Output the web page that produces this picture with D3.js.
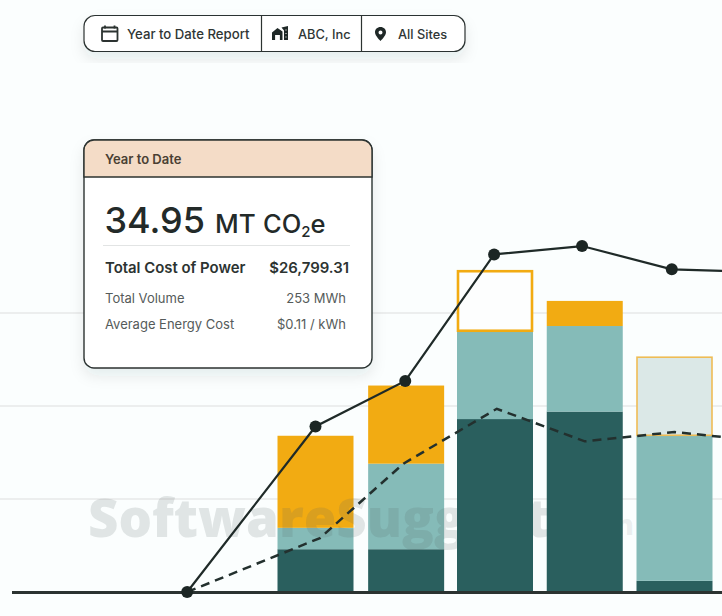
<!DOCTYPE html>
<html><head><meta charset="utf-8">
<script src="https://cdn.jsdelivr.net/npm/d3@7"></script>
<style>html,body{margin:0;padding:0;background:#fbfefe;overflow:hidden}svg{display:block}text{font-family:Inter,"Noto Sans",sans-serif}</style>
</head><body><div id="c"></div>
<script>
// ---- data ----
const categories = ["M1","M2","M3","M4","M5"];
const barPositions = [0,1.01,2,3,4];
const darkValues = [46,46,188,194,12];
const tealValues = [23,92,94,92,156];
const upperValues = [99,84,64,27,85];
const upperStyles = ["solid","solid","outline","solid","pale"];
const solidPositions = [-1.43,0,1,1.99,2.97,3.97,5];
const solidLine = [0,178,227,363,372,347,344];
const dashedPositions = [-1.43,0.05,0.98,2.02,3,4,5];
const dashedLine = [0,58,138,197,162,172,162];
const gridValues = [100,200,300];
const pillLabels = ["Year to Date Report","ABC, Inc","All Sites"];
const statRows = [["Total Volume","253 MWh"],["Average Energy Cost","$0.11 / kWh"]];

const W=722,H=616;
const svg=d3.select("#c").append("svg").attr("width",W).attr("height",H);
const defs=svg.append("defs");
const f=defs.append("filter").attr("id","sh").attr("x","-15%").attr("y","-20%").attr("width","130%").attr("height","150%");
f.append("feDropShadow").attr("dx",0).attr("dy",7).attr("stdDeviation",7).attr("flood-color","#1a2a2a").attr("flood-opacity",0.09);

const x=d3.scaleLinear().domain([0,4]).range([315.5,674.5]);
const y=d3.scaleLinear().domain([0,400]).range([592,220]);
const band=76;

// gridlines
svg.append("g").selectAll("line").data(gridValues).join("line")
  .attr("x1",0).attr("x2",W).attr("y1",d=>y(d)).attr("y2",d=>y(d))
  .attr("stroke","#eceeee").attr("stroke-width",2);

// stacked bars
const rows=categories.map((c,i)=>({c,i,dark:darkValues[i],teal:tealValues[i],upper:upperValues[i],style:upperStyles[i]}));
const stack=d3.stack().keys(["dark","teal","upper"])(rows);
const colours={dark:"#2a5f5e",teal:"#85bbb8",upper:"#f2ab12"};
function drawBars(sel,subset){
  stack.forEach(layer=>{
    sel.append("g").selectAll("rect").data(layer.filter(d=>subset(d.data.i))).join("rect")
      .each(function(d){
        const r=d3.select(this),k=layer.key,s=d.data.style;
        const outlined=k==="upper"&&s!=="solid";
        const inset=outlined?(s==="pale"?0.5:1):0;
        r.attr("x",x(barPositions[d.data.i])-band/2+inset).attr("width",band-inset*2)
         .attr("y",y(d[1])+inset).attr("height",y(d[0])-y(d[1])-inset*2+(s==="outline"?2:0));
        if(outlined){
          r.attr("fill",s==="pale"?"#dbe8e7":"#fdfefe").attr("stroke",s==="pale"?"#efbc55":"#f2ab12").attr("stroke-width",s==="pale"?1.6:2.6);
        } else r.attr("fill",colours[k]);
      });
  });
}
drawBars(svg.append("g"),i=>i<2);

// watermark
svg.append("text").attr("x",88).attr("y",537).attr("fill","#5a6464").attr("fill-opacity",0.16)
  .attr("font-size",53).attr("font-weight",800).style("font-family","'Open Sans',sans-serif").attr("textLength",462).attr("lengthAdjust","spacingAndGlyphs").text("SoftwareSuggest");
svg.append("text").attr("x",634).attr("y",535).attr("text-anchor","end").attr("fill","#5a6464").attr("fill-opacity",0.1)
  .attr("font-size",28).attr("font-weight",800).style("font-family","'Open Sans',sans-serif").text(".com");

drawBars(svg.append("g"),i=>i>=2);

// baseline
svg.append("line").attr("x1",12).attr("x2",W).attr("y1",y(0)+0.5).attr("y2",y(0)+0.5).attr("stroke","#2b3331").attr("stroke-width",3);

// lines
const solidPts=solidPositions.map((p,i)=>[p,solidLine[i]]);
const dashPts=dashedPositions.map((p,i)=>[p,dashedLine[i]]);
const line=d3.line().x(d=>x(d[0])).y(d=>y(d[1]));
svg.append("path").attr("d",line(dashPts)).attr("fill","none").attr("stroke","#23302e").attr("stroke-width",2.5).attr("stroke-dasharray","9 6");
svg.append("path").attr("d",line(solidPts)).attr("fill","none").attr("stroke","#1f2a28").attr("stroke-width",2.2);
svg.append("g").selectAll("circle").data(solidPts).join("circle")
  .attr("cx",d=>x(d[0])).attr("cy",d=>y(d[1])).attr("r",6).attr("fill","#1c2624");

// pill
const ink="#2c3331";
svg.append("rect").attr("x",84).attr("y",15.5).attr("width",381).attr("height",36).attr("rx",11)
  .attr("fill","#fff").attr("stroke",ink).attr("stroke-width",1.2).attr("filter","url(#sh)");
[261.5,361.5].forEach(v=>svg.append("line").attr("x1",v).attr("x2",v).attr("y1",15.5).attr("y2",51.5).attr("stroke",ink).attr("stroke-width",1.2));
const pillX=[127,298,398],pillSize=[13.2,12.8,12.8];
svg.append("g").selectAll("text").data(pillLabels).join("text")
  .attr("x",(d,i)=>pillX[i]).attr("y",39).attr("font-size",(d,i)=>pillSize[i]).attr("font-weight",500).attr("fill","#2f3635").text(d=>d);
// icons
svg.append("path").attr("d","M103 27.5h13.5a1 1 0 0 1 1 1V40a1 1 0 0 1-1 1H103a1 1 0 0 1-1-1V28.5a1 1 0 0 1 1-1z M102.5 31.5h14.5").attr("fill","none").attr("stroke",ink).attr("stroke-width",1.8);
svg.append("path").attr("d","M105 25.5v3M114.5 25.5v3").attr("stroke",ink).attr("stroke-width",1.8);
svg.append("path").attr("fill-rule","evenodd").attr("fill","#1f2827")
  .attr("d","M272 40V32.5l5.5-4.5 5 3.5V40h-2.6v-5h-4.8v5z M281.5 27.5l6.5-1.5v14h-4V30.5z");
svg.append("path").attr("d","M285.5 30h1M285.5 33.5h1M285.5 37h1").attr("stroke","#fff").attr("stroke-width",1.2);
svg.append("path").attr("fill","#1f2827").attr("fill-rule","evenodd")
  .attr("d","M380.5 27c-3.3 0-5.5 2.4-5.5 5.3 0 3.6 5.5 8.7 5.5 8.7s5.5-5.1 5.5-8.7c0-2.9-2.2-5.3-5.5-5.3z M380.5 30.5a2 2 0 1 1 0 4a2 2 0 1 1 0-4z");

// card
svg.append("rect").attr("x",84).attr("y",140).attr("width",288).attr("height",228).attr("rx",10)
  .attr("fill","#fff").attr("stroke",ink).attr("stroke-width",1.4).attr("filter","url(#sh)");
svg.append("path").attr("d","M84 177V150a10 10 0 0 1 10-10H362a10 10 0 0 1 10 10V177Z").attr("fill","#f4dcc7").attr("stroke",ink).attr("stroke-width",1.4);
const t=(x0,y0,s,size,w,fill,anchor)=>svg.append("text").attr("x",x0).attr("y",y0).attr("font-size",size).attr("font-weight",w).attr("fill",fill).attr("text-anchor",anchor||"start").text(s);
t(105,164,"Year to Date",13,600,"#4a3f33");
t(104.5,233,"34.95",36,500,"#232a29");
t(215,233,"MT",26,500,"#232a29");
const co=t(263,233,"CO",25.5,500,"#232a29");
co.append("tspan").attr("font-size",15).attr("dy",4).text("2");
co.append("tspan").attr("dy",-4).text("e");
svg.append("line").attr("x1",103).attr("x2",350).attr("y1",245.5).attr("y2",245.5).attr("stroke","#e2e4e4").attr("stroke-width",1.2);
t(105,273,"Total Cost of Power",14.9,600,"#2c3331");
t(349,273,"$26,799.31",14.9,600,"#2c3331","end");
const statY=[303,329];
statRows.forEach((r,i)=>{t(105,statY[i],r[0],13,400,"#555b5a");t(346,statY[i],r[1],13,400,"#555b5a","end");});
</script></body></html>
